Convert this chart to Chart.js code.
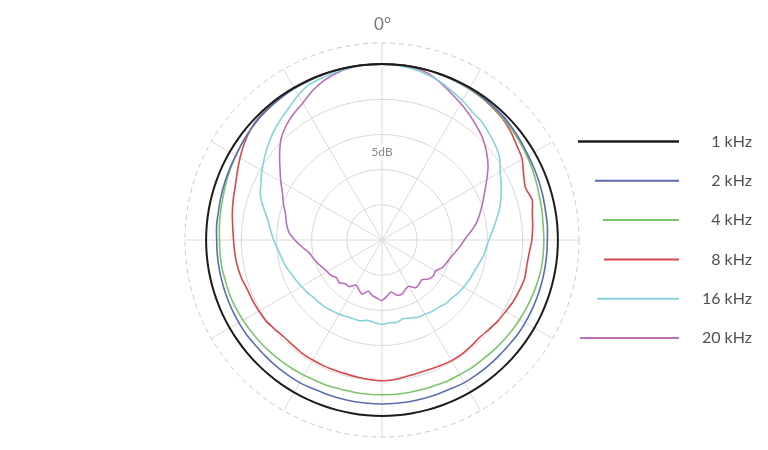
<!DOCTYPE html>
<html lang="en">
<head>
    <meta charset="UTF-8">
    <meta name="viewport" content="width=device-width, initial-scale=1.0">
    <title>Polar pattern</title>
    <script src="https://cdn.jsdelivr.net/npm/chart.js"></script>
    <style>
        body { margin: 0; background: #fff; }
        #wrap { width: 768px; height: 450px; }
    </style>
</head>
<body>
    <div id="wrap"><canvas id="polarChart"></canvas></div>

    <script>
        // angles, degrees clockwise from the front (0°)
        const angles = [0, 5, 10, 15, 20, 25, 30, 35, 40, 45, 50, 55, 60, 65, 70, 75, 80, 85,
            90, 95, 100, 105, 110, 115, 120, 125, 130, 135, 140, 145, 150, 155, 160, 165, 170, 175,
            180, 185, 190, 195, 200, 205, 210, 215, 220, 225, 230, 235, 240, 245, 250, 255, 260, 265,
            270, 275, 280, 285, 290, 295, 300, 305, 310, 315, 320, 325, 330, 335, 340, 345, 350, 355];

        const seriesNames = ['1 kHz', '2 kHz', '4 kHz', '8 kHz', '16 kHz', '20 kHz'];

        // level in dB, one value per angle above
        const khz1 = [0, 0, 0, 0, 0, 0, 0, 0, 0, 0, 0, 0, 0, 0, 0, 0, 0, 0,
            0, 0, 0, 0, 0, 0, 0, 0, 0, 0, 0, 0, 0, 0, 0, 0, 0, 0,
            0, 0, 0, 0, 0, 0, 0, 0, 0, 0, 0, 0, 0, 0, 0, 0, 0, 0,
            0, 0, 0, 0, 0, 0, 0, 0, 0, 0, 0, 0, 0, 0, 0, 0, 0, 0];
        const khz2 = [0, 0, 0, 0, 0, -0.1, -0.1, -0.2, -0.3, -0.4, -0.6, -0.8, -1.0, -1.1, -1.2, -1.3, -1.4, -1.4,
            -1.5, -1.5, -1.5, -1.5, -1.5, -1.5, -1.5, -1.5, -1.6, -1.6, -1.6, -1.6, -1.6, -1.7, -1.7, -1.7, -1.7, -1.7,
            -1.7, -1.7, -1.7, -1.7, -1.7, -1.7, -1.6, -1.6, -1.6, -1.6, -1.6, -1.5, -1.5, -1.5, -1.5, -1.5, -1.5, -1.5,
            -1.5, -1.4, -1.4, -1.3, -1.2, -1.1, -1.0, -0.8, -0.6, -0.4, -0.3, -0.2, -0.1, -0.1, 0, 0, 0, 0];
        const khz4 = [0, 0, 0, 0, -0.1, -0.1, -0.2, -0.3, -0.4, -0.6, -0.8, -1.0, -1.2, -1.4, -1.6, -1.8, -1.9, -2.0,
            -2.0, -2.0, -2.0, -2.1, -2.2, -2.3, -2.4, -2.5, -2.6, -2.7, -2.8, -2.8, -2.9, -2.9, -3.0, -3.0, -3.0, -3.0,
            -3.0, -3.0, -3.0, -3.0, -2.9, -2.9, -2.8, -2.7, -2.6, -2.5, -2.4, -2.3, -2.2, -2.1, -2.0, -2.0, -1.9, -1.9,
            -1.9, -1.8, -1.7, -1.6, -1.4, -1.2, -1.0, -0.8, -0.6, -0.4, -0.3, -0.2, -0.1, -0.1, 0, 0, 0, 0];
        const khz8 = [0, 0, 0, 0, -0.1, -0.1, -0.2, -0.3, -0.5, -0.7, -1.1, -1.6, -2.0, -2.8, -3.3, -2.9, -3.3, -3.5,
            -3.7, -4.0, -4.1, -4.0, -4.2, -4.4, -4.7, -4.9, -5.2, -5.4, -5.3, -5.2, -5.2, -5.3, -5.4, -5.4, -5.3, -5.1,
            -5.0, -5.1, -5.2, -5.3, -5.3, -5.3, -5.3, -5.3, -5.4, -5.4, -5.2, -4.9, -4.8, -4.7, -4.6, -4.3, -4.1, -4.0,
            -3.9, -3.7, -3.4, -3.1, -2.8, -2.3, -1.7, -1.1, -0.6, -0.3, -0.2, -0.1, -0.1, 0, 0, 0, 0, 0];
        const khz16 = [0, -0.1, -0.3, -0.6, -1.0, -1.6, -2.1, -2.7, -3.0, -3.5, -4.0, -4.6, -5.6, -6.3, -7.0, -7.7, -8.5, -9.2,
            -9.8, -10.2, -10.5, -10.9, -11.2, -11.4, -11.6, -11.8, -12.1, -12.2, -12.5, -12.6, -12.8, -12.9, -13.2, -13.4, -13.1, -13.2,
            -13.0, -13.2, -13.4, -13.1, -13.1, -13.0, -12.8, -12.7, -12.5, -12.4, -12.3, -12.0, -11.8, -11.5, -11.2, -10.8, -10.5, -10.1,
            -9.6, -9.1, -8.5, -7.6, -6.6, -6.0, -5.3, -4.6, -3.9, -3.2, -2.6, -2.0, -1.2, -0.6, -0.4, -0.2, -0.1, 0];
        const khz20 = [0, 0, -0.1, -0.4, -1.1, -1.9, -2.6, -3.3, -4.0, -4.7, -5.6, -6.6, -7.8, -8.9, -9.8, -10.6, -11.4, -12.4,
            -13.3, -13.9, -14.5, -15.0, -15.3, -15.6, -16.2, -16.1, -16.4, -17.0, -16.8, -16.7, -17.4, -17.2, -16.8, -16.9, -17.5, -17.0,
            -16.4, -16.7, -17.0, -17.5, -16.8, -17.2, -17.6, -16.9, -16.9, -16.4, -16.6, -16.2, -16.0, -15.7, -15.3, -14.9, -14.5, -13.6,
            -12.6, -11.7, -11.2, -10.8, -10.1, -9.4, -8.4, -7.3, -6.0, -4.7, -3.8, -3.1, -2.5, -1.6, -0.9, -0.4, -0.1, 0];

        // rings of the radial scale and their labels
        const ringValues = [-25, -20, -15, -12.5, -10, -5, 0, 3];
        const ringLabels = ['', '', '', '5dB', '', '', '', ''];
        const frontLabel = '0°';

        const seriesData = [khz1, khz2, khz4, khz8, khz16, khz20];
        const seriesColors = ['#1c1c1c', '#5b6cb0', '#7ec46d', '#d9474b', '#86d3d8', '#b96fba'];
        const seriesWidths = [2, 1.6, 1.6, 1.6, 1.6, 1.6];

        // legend on the right: line + text per series
        const legendLines = {
            id: 'legendLines',
            afterDraw(chart) {
                const ctx = chart.ctx;
                const lineStart = [578, 595, 603, 604, 597, 580];
                ctx.save();
                ctx.font = '16px Lato, "Open Sans", sans-serif';
                ctx.textAlign = 'right';
                ctx.textBaseline = 'middle';
                chart.data.datasets.forEach((ds, i) => {
                    const y = 141.5 + i * 39.3;
                    ctx.strokeStyle = ds.borderColor;
                    ctx.lineWidth = i === 0 ? 2.5 : 2;
                    ctx.beginPath();
                    ctx.moveTo(lineStart[i], y);
                    ctx.lineTo(679, y);
                    ctx.stroke();
                    ctx.fillStyle = '#505050';
                    ctx.fillText(ds.label, 752, y);
                });
                ctx.restore();
            }
        };

        const ctx = document.getElementById('polarChart').getContext('2d');
        const polarChart = new Chart(ctx, {
            type: 'radar',
            data: {
                labels: angles,
                datasets: seriesNames.map((name, i) => ({
                    label: name,
                    data: seriesData[i],
                    borderColor: seriesColors[i],
                    borderWidth: seriesWidths[i],
                    backgroundColor: 'transparent',
                    fill: false,
                    pointRadius: 0,
                    tension: 0.25
                }))
            },
            options: {
                responsive: true,
                maintainAspectRatio: false,
                animation: false,
                layout: {
                    padding: { left: 177, right: 180, top: 0, bottom: 4 }
                },
                plugins: {
                    legend: { display: false },
                    tooltip: { enabled: false },
                    title: {
                        display: true,
                        text: frontLabel,
                        color: '#777777',
                        font: { family: 'Lato, "Open Sans", sans-serif', size: 17, weight: 'normal', lineHeight: 1.2 },
                        padding: { top: 14, bottom: 0.6 }
                    }
                },
                scales: {
                    r: {
                        min: -25,
                        max: 3,
                        startAngle: 0,
                        afterBuildTicks: scale => {
                            scale.ticks = ringValues.map(v => ({ value: v }));
                        },
                        grid: {
                            circular: true,
                            lineWidth: 1,
                            color: c => {
                                if (c.tick.value === -12.5) return 'rgba(0,0,0,0)';
                                return c.tick.value === 3 ? '#c8c8c8' : '#d8d8d8';
                            }
                        },
                        border: {
                            dash: c => (c.tick && c.tick.value === 3) ? [5, 4] : []
                        },
                        angleLines: {
                            display: true,
                            color: '#dadada',
                            lineWidth: c => (c.index % 6 === 0 ? 1 : 0)
                        },
                        pointLabels: { display: false },
                        ticks: {
                            display: true,
                            callback: v => ringLabels[ringValues.indexOf(v)] || '',
                            color: '#888888',
                            font: { family: 'Lato, "Open Sans", sans-serif', size: 12 },
                            backdropPadding: 2,
                            showLabelBackdrop: c => c.tick.value === -12.5
                        }
                    }
                }
            },
            plugins: [legendLines]
        });
    </script>
</body>
</html>
